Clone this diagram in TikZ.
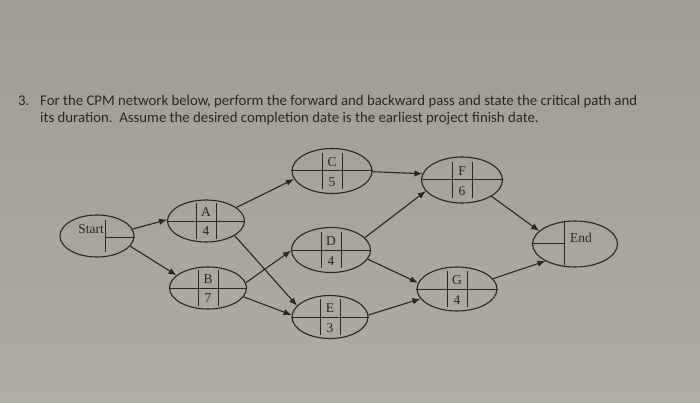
\documentclass[tikz,border=0pt]{standalone}
\usepackage{fontspec}
\setmainfont{Liberation Serif}
\newfontfamily\titlefont{Carlito}
\usetikzlibrary{shapes.geometric,arrows.meta,calc}
\definecolor{ink}{RGB}{40,39,37}
\definecolor{papertop}{RGB}{160,156,147}
\definecolor{paperbot}{RGB}{176,172,162}
\tikzset{
  act/.style={draw=ink, ellipse, line width=1.1pt, inner sep=0pt},
  cell/.style={draw=ink, line width=1pt},
  lbl/.style={text=ink, font=\fontsize{13.5}{13.5}\selectfont, inner sep=0pt},
  conn/.style={draw=ink, line width=1.1pt, -{Latex[length=8pt,width=6.5pt]}},
  title/.style={text=ink, font=\titlefont\fontsize{14.8}{16}\selectfont, inner sep=0pt, anchor=base west}
}
\newcommand{\crossact}[6]{%
  \node[act, minimum width=#4pt, minimum height=#5pt] (#1) at (#2,#3) {};
  \draw[cell] (#1.west) -- (#1.east);
  \draw[cell] ($(#1.center)+(-10,-18)$) -- ($(#1.center)+(-10,18)$);
  \draw[cell] ($(#1.center)+(10,-18)$) -- ($(#1.center)+(10,18)$);
  \node[lbl] (#1-name) at ($(#1.center)+(0,-9)$) {#6};
}
\begin{document}
\begin{tikzpicture}[x=1pt,y=-1pt]
\shade[top color=papertop, bottom color=paperbot] (0,0) rectangle (700,403);
\useasboundingbox (0,0) rectangle (700,403);

\node[title] (num) at (18,106) {3.};
\node[title] (line1) at (40,106) {For the CPM network below, perform the forward and backward pass and state the critical path and};
\node[title] (line2) at (40,123) {its duration.\ \ Assume the desired completion date is the earliest project finish date.};

% Start
\node[act, minimum width=74pt, minimum height=42pt] (Start) at (97,236) {};
\draw[cell] (105,220) -- (105,252);
\draw[cell] (105,237) -- (Start.east |- 0,237);
\node[lbl, anchor=east] (startlbl) at (104,229) {Start};

% End
\node[act, minimum width=85pt, minimum height=46pt] (End) at (575,244) {};
\draw[cell] (564,222) -- (564,265);
\draw[cell] (End.west |- 0,243) -- (564,243);
\node[lbl, anchor=west] (endlbl) at (570,238) {End};

\crossact{A}{206}{221}{77}{42}{A}
\node[lbl] (A-d) at ($(A.center)+(0,10)$) {4};
\crossact{B}{208}{288}{77}{42}{B}
\node[lbl] (B-d) at ($(B.center)+(0,10)$) {7};
\crossact{C}{332}{171}{80}{45}{C}
\node[lbl] (C-d) at ($(C.center)+(0,11)$) {5};
\crossact{D}{331}{250}{79}{45}{D}
\node[lbl] (D-d) at ($(D.center)+(0,11)$) {4};
\crossact{E}{330}{317}{76}{43}{E}
\node[lbl] (E-d) at ($(E.center)+(0,11)$) {3};
\crossact{F}{462}{180}{81}{46}{F}
\node[lbl] (F-d) at ($(F.center)+(0,11)$) {6};
\crossact{G}{457}{289}{80}{44}{G}
\node[lbl] (G-d) at ($(G.center)+(0,11)$) {4};

% connectors
\draw[conn] (Start.11) -- (A.178);
\draw[conn] (Start.-17) -- (B.158);
\draw[conn] (A.24) -- (C.192);
\draw[conn] (A.-27) -- (E.161);
\draw[conn] (B.8) -- (D.181);
\draw[conn] (B.-14) -- (E.177);
\draw[conn] (C.-1) -- (F.171);
\draw[conn] (D.20) -- (F.197);
\draw[conn] (D.-14) -- (G.171);
\draw[conn] (E.3) -- (G.195);
\draw[conn] (F.-29) -- (End.160);
\draw[conn] (G.16) -- (End.210);
\end{tikzpicture}
\end{document}
